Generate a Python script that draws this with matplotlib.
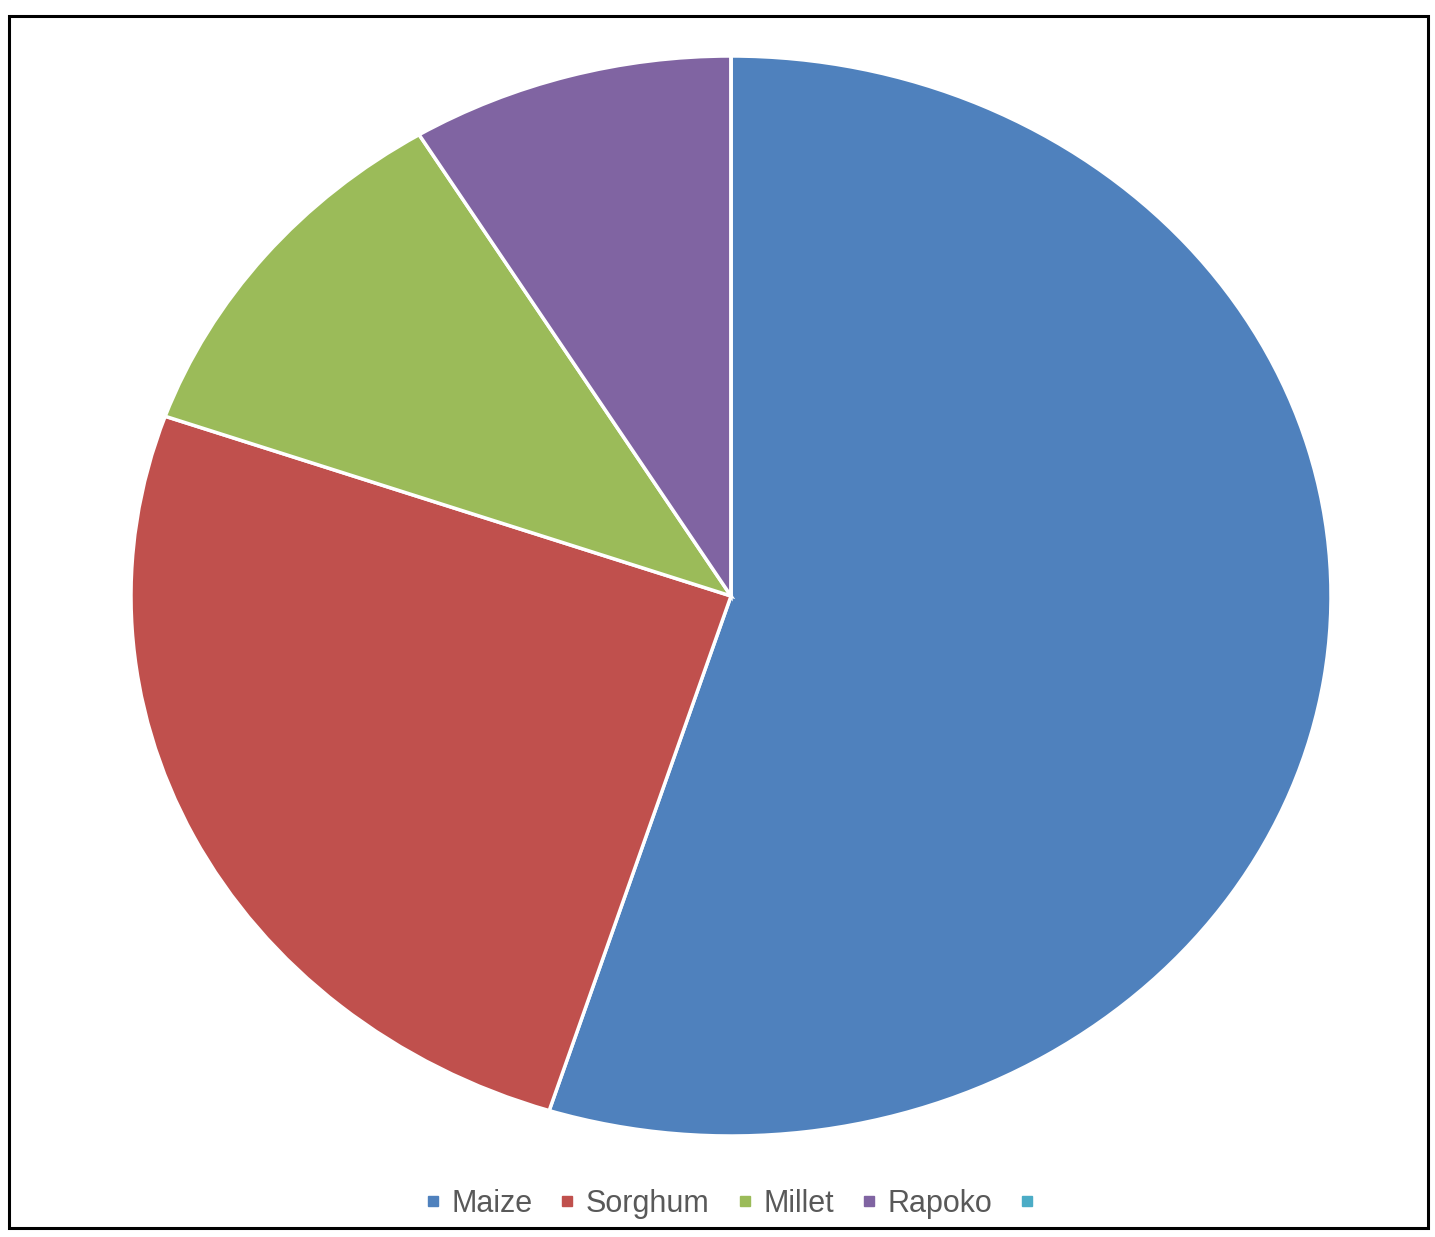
import matplotlib
matplotlib.use("Agg")
import matplotlib.pyplot as plt
from matplotlib.lines import Line2D
from matplotlib.patches import Rectangle

categories = ["Maize", "Sorghum", "Millet", "Rapoko", ""]
values = [54.9, 25.5, 10.9, 8.7, 0.0]
colors = ["#4F81BD", "#C0504D", "#9BBB59", "#8064A2", "#4BACC6"]

fig = plt.figure(figsize=(14.35, 12.37), dpi=100)
ax = fig.add_axes([131/1435, (1237-1136)/1237, 1200/1435, 1080/1237])
wedges, _ = ax.pie(values, colors=colors, startangle=90, counterclock=False,
                   wedgeprops=dict(edgecolor="white", linewidth=2.5))
ax.set_aspect("auto")
ax.set_xlim(-1, 1)
ax.set_ylim(-1, 1)
ax.axis("off")

# figure frame
fig.patches.append(Rectangle((9/1435, 1-1228/1237), (1428-9)/1435, (1228-16)/1237,
                             transform=fig.transFigure, fill=False,
                             edgecolor="black", linewidth=2.2))

handles = [Line2D([], [], marker="s", linestyle="none", markersize=6.5,
                  markerfacecolor=c, markeredgecolor=c) for c in colors]
fig.legend(handles, categories, loc="center", bbox_to_anchor=(733/1435, 1-1204/1237),
           ncol=5, frameon=False, handletextpad=0.2, columnspacing=0.75,
           handlelength=0.8,
           prop=dict(family="Liberation Sans", size=22), labelcolor="#595959")

fig.savefig("out.png", dpi=100)
